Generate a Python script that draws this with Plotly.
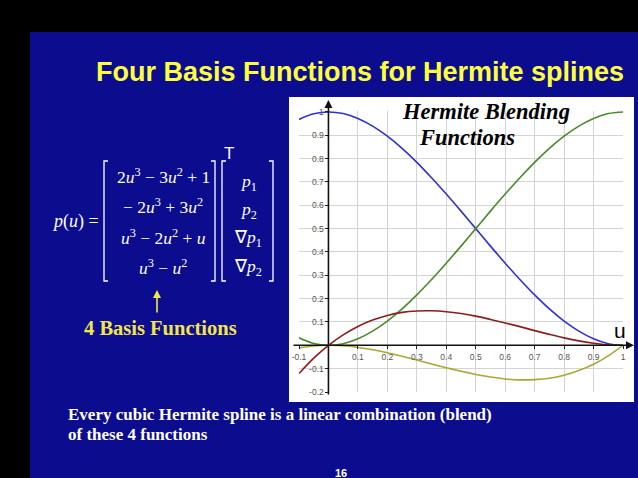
import plotly.graph_objects as go

# sample points along u
U = [-0.1, -0.05, 0.0, 0.05, 0.1, 0.15, 0.2, 0.25, 0.3, 0.35, 0.4, 0.45,
     0.5, 0.55, 0.6, 0.65, 0.7, 0.75, 0.8, 0.85, 0.9, 0.95, 1.0]

BLUE_H1 = [0.968, 0.992, 1.0, 0.993, 0.972, 0.939, 0.896, 0.844, 0.784, 0.718, 0.648, 0.575,
           0.5, 0.425, 0.352, 0.282, 0.216, 0.156, 0.104, 0.061, 0.028, 0.007, 0.0]
GREEN_H2 = [0.032, 0.008, 0.0, 0.007, 0.028, 0.061, 0.104, 0.156, 0.216, 0.282, 0.352, 0.425,
            0.5, 0.575, 0.648, 0.718, 0.784, 0.844, 0.896, 0.939, 0.972, 0.993, 1.0]
RED_H3 = [-0.121, -0.055, 0.0, 0.045, 0.081, 0.108, 0.128, 0.141, 0.147, 0.148, 0.144, 0.136,
          0.125, 0.111, 0.096, 0.080, 0.063, 0.047, 0.032, 0.019, 0.009, 0.002, 0.0]
OLIVE_H4 = [-0.011, -0.003, 0.0, -0.002, -0.009, -0.019, -0.032, -0.047, -0.063, -0.080, -0.096, -0.111,
            -0.125, -0.136, -0.144, -0.148, -0.147, -0.141, -0.128, -0.108, -0.081, -0.045, 0.0]

X_TICKS = [-0.1, 0.1, 0.2, 0.3, 0.4, 0.5, 0.6, 0.7, 0.8, 0.9, 1.0]
X_TICK_TEXT = ["-0.1", "0.1", "0.2", "0.3", "0.4", "0.5", "0.6", "0.7", "0.8", "0.9", "1"]
Y_TICKS = [-0.2, -0.1, 0.1, 0.2, 0.3, 0.4, 0.5, 0.6, 0.7, 0.8, 0.9, 1.0]
Y_TICK_TEXT = ["-0.2", "-0.1", "0.1", "0.2", "0.3", "0.4", "0.5", "0.6", "0.7", "0.8", "0.9", "1"]

X_RANGE = [-0.1, 1.0]
Y_RANGE = [-0.2, 1.004]

MATRIX_ROWS = [
    "2<i>u</i><sup>3</sup> − 3<i>u</i><sup>2</sup> + 1",
    "− 2<i>u</i><sup>3</sup> + 3<i>u</i><sup>2</sup>",
    "<i>u</i><sup>3</sup> − 2<i>u</i><sup>2</sup> + <i>u</i>",
    "<i>u</i><sup>3</sup> − <i>u</i><sup>2</sup>",
]
POINT_ROWS = [
    "<i>p</i><sub>1</sub>",
    "<i>p</i><sub>2</sub>",
    "∇<i>p</i><sub>1</sub>",
    "∇<i>p</i><sub>2</sub>",
]

# page geometry (pixels)
W, H = 638, 478
ML, MR, MT, MB = 299, 15, 111, 86
PW = W - ML - MR
PH = H - MT - MB

SLIDE_BLUE = "#0c0c8e"
YELLOW = "#ffff3c"
SERIF = "Liberation Serif"
SANS = "Liberation Sans"


def fx(px):
    return (px - ML) / PW


def fy(py):
    return (H - MB - py) / PH


def label(text, px, py, size, color="white", family=SERIF, xanchor="center"):
    return dict(text=text, x=fx(px), y=fy(py), xref="paper", yref="paper",
                xanchor=xanchor, yanchor="middle", showarrow=False,
                font=dict(size=size, color=color, family=family))


def bracket(x_out, x_in, top, bottom):
    path = "M {a} {t} L {b} {t} L {b} {bt} L {a} {bt}".format(
        a=fx(x_in), b=fx(x_out), t=fy(top), bt=fy(bottom))
    return dict(type="path", path=path, xref="paper", yref="paper",
                line=dict(color="white", width=1.3), layer="above")


def curve(y, colour):
    return go.Scatter(x=U, y=y, mode="lines", line=dict(color=colour, width=1.6, shape="spline"),
                      showlegend=False, hoverinfo="skip")


fig = go.Figure([
    curve(BLUE_H1, "#3030d2"),
    curve(GREEN_H2, "#4a8a2c"),
    curve(RED_H3, "#8a1e1e"),
    curve(OLIVE_H4, "#a8a834"),
])

shapes = [
    dict(type="rect", xref="paper", yref="paper", x0=fx(30), x1=fx(650), y0=fy(490), y1=fy(32),
         fillcolor=SLIDE_BLUE, line=dict(width=0), layer="below"),
    dict(type="rect", xref="paper", yref="paper", x0=fx(289), x1=fx(634), y0=fy(402), y1=fy(97),
         fillcolor="white", line=dict(width=0), layer="below"),
    bracket(104, 108, 161, 281),
    bracket(215, 211, 161, 281),
    bracket(222, 226, 161, 281),
    bracket(273, 269, 161, 281),
]

annotations = [
    label("<b>Four Basis Functions for Hermite splines</b>", 360, 72, 27, YELLOW, SANS),
    label("<b><i>Hermite Blending</i></b>", 400, 111, 22.5, "black", SERIF, "left"),
    label("<b><i>Functions</i></b>", 417, 137, 22.5, "black", SERIF, "left"),
    label("<i>p</i>(<i>u</i>) =", 75, 221, 18),
    label("T", 229, 153, 17, "white", SANS),
    label("<b>4 Basis Functions</b>", 160, 328, 20.5, "#f2e64a"),
    label("<b>Every cubic Hermite spline is a linear combination (blend)</b>", 66, 414, 17, xanchor="left"),
    label("<b>of these 4 functions</b>", 66, 434, 17, xanchor="left"),
    label("<b>16</b>", 341, 473, 11, "white", SANS),
    dict(text="u", x=0.99, y=0.065, xref="x", yref="y", showarrow=False,
         font=dict(size=21, color="black", family=SANS)),
    # axis lines with arrowheads
    dict(text="", x=0, y=fy(100), xref="x", yref="paper", ax=0, ay=296,
         showarrow=True, arrowhead=2, arrowsize=1, arrowwidth=1.6, arrowcolor="#111111"),
    dict(text="", x=fx(634), y=0, xref="paper", yref="y", ax=-342, ay=0,
         showarrow=True, arrowhead=2, arrowsize=1, arrowwidth=1.6, arrowcolor="#111111"),
    # yellow pointer
    dict(text="", x=fx(157), y=fy(290), xref="paper", yref="paper", ax=0, ay=24,
         showarrow=True, arrowhead=2, arrowsize=1, arrowwidth=1.6, arrowcolor="#f2e64a"),
]

row_y = [176, 206, 237, 267]
for text, py in zip(MATRIX_ROWS, row_y):
    annotations.append(label(text, 163, py, 17.5))
point_y = [182, 210, 238, 267]
for text, py in zip(POINT_ROWS, point_y):
    annotations.append(label(text, 248, py, 17.5))

fig.update_layout(
    width=W, height=H,
    margin=dict(l=ML, r=MR, t=MT, b=MB),
    paper_bgcolor="black",
    plot_bgcolor="white",
    shapes=shapes,
    annotations=annotations,
    xaxis=dict(range=X_RANGE, tickmode="array", tickvals=X_TICKS, ticktext=X_TICK_TEXT,
               showgrid=True, gridcolor="#d4d4d4", gridwidth=1, zeroline=False, showline=False,
               anchor="free", position=(0 - Y_RANGE[0]) / (Y_RANGE[1] - Y_RANGE[0]),
               ticks="outside", ticklen=3, tickcolor="#222222",
               tickfont=dict(size=8.5, color="#555555", family=SANS)),
    yaxis=dict(range=Y_RANGE, tickmode="array", tickvals=Y_TICKS, ticktext=Y_TICK_TEXT,
               showgrid=True, gridcolor="#d4d4d4", gridwidth=1, zeroline=False, showline=False,
               anchor="free", position=(0 - X_RANGE[0]) / (X_RANGE[1] - X_RANGE[0]),
               ticks="outside", ticklen=3, tickcolor="#222222",
               tickfont=dict(size=8.5, color="#555555", family=SANS)),
)

# the page body has a default 8px margin; drop it so the figure fills the window
fig.write_html("out.html", config=dict(displayModeBar=False),
               post_script="document.body.style.margin = '0px';")
